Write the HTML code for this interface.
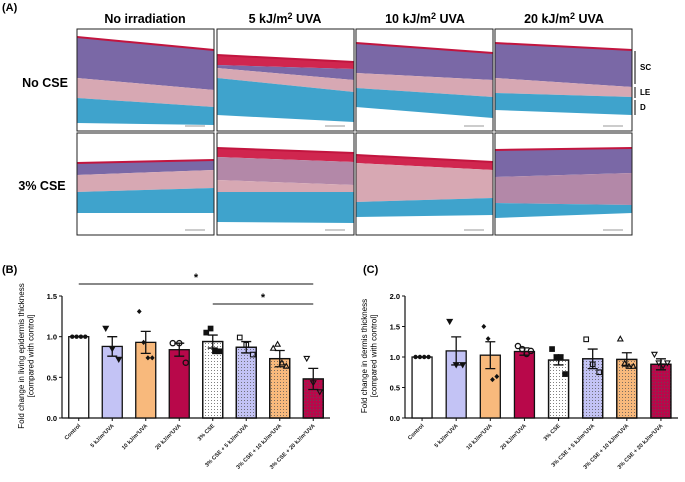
<!DOCTYPE html>
<html><head><meta charset="utf-8">
<style>
body{margin:0;width:685px;height:482px;background:#fff;overflow:hidden;font-family:"Liberation Sans",Arial,sans-serif}
svg{position:absolute;left:0;top:0}
</style></head>
<body>
<svg id="fig" width="685" height="482" viewBox="0 0 685 482">
<defs>
<pattern id="dots" width="3" height="3" patternUnits="userSpaceOnUse"><rect width="3" height="3" fill="none"/><circle cx="1.5" cy="1.5" r="0.5" fill="#555"/></pattern>
</defs>
<text x="2" y="11" font-size="11" font-weight="bold">(A)</text>
<g font-size="12.5" font-weight="bold" text-anchor="middle">
<text x="145" y="23">No irradiation</text>
<text x="285" y="23">5 kJ/m<tspan font-size="9" dy="-4">2</tspan><tspan dy="4"> UVA</tspan></text>
<text x="425" y="23">10 kJ/m<tspan font-size="9" dy="-4">2</tspan><tspan dy="4"> UVA</tspan></text>
<text x="564" y="23">20 kJ/m<tspan font-size="9" dy="-4">2</tspan><tspan dy="4"> UVA</tspan></text>
<text x="45" y="87">No CSE</text>
<text x="42" y="190">3% CSE</text>
</g>
<g id="panels"></g>
<g font-size="8" font-weight="bold">
<line x1="635" y1="51" x2="635" y2="84" stroke="#000"/><text x="640" y="70">SC</text>
<line x1="635" y1="87" x2="635" y2="98" stroke="#000"/><text x="640" y="95">LE</text>
<line x1="635" y1="100" x2="635" y2="115" stroke="#000"/><text x="640" y="110">D</text>
</g>
<text x="2" y="273" font-size="11" font-weight="bold">(B)</text>
<text x="363" y="273" font-size="11" font-weight="bold">(C)</text>
<g id="chartB"></g>
<g id="chartC"></g>
</svg>
<script>
const NS="http://www.w3.org/2000/svg";
function mk(p,t,a){const e=document.createElementNS(NS,t);for(const k in a)e.setAttribute(k,a[k]);p.appendChild(e);return e;}
// ---- histology panels (illustrative) ----
const panelCols=[77,217,356,495], panelRows=[29,133], pw=137, ph=102;
const PU="#7a68a6", PK="#d7a8b3", CY="#3fa3cc", RD="#d0264f", PM="#b388a8";
const panelLayers=[
 [[8,21,PU],[49,61,PK],[69,78,CY],[94,96,null]],
 [[26,33,RD],[36,40,PU],[39,51,PK],[49,63,CY],[86,93,null]],
 [[14,24,PU],[44,51,PK],[59,68,CY],[78,89,null]],
 [[14,21,PU],[49,58,PK],[64,68,CY],[81,86,null]],
 [[30,27,PU],[42,37,PK],[59,55,CY],[80,80,null]],
 [[15,20,RD],[24,29,PM],[47,52,PK],[59,59,CY],[89,90,null]],
 [[22,29,RD],[30,37,PK],[69,65,CY],[84,82,null]],
 [[17,15,PU],[44,40,PM],[70,72,CY],[85,80,null]]];
panelLayers.forEach((L,i)=>{
 const x0=panelCols[i%4], y0=panelRows[Math.floor(i/4)];
 const g=mk(document.getElementById('panels'),'g',{});
 
 
 mk(g,'rect',{x:x0,y:y0,width:pw,height:ph,fill:'#fff'});
 for(let j=0;j<L.length-1;j++){
  const [l,r,col]=L[j], [nl,nr]=L[j+1];
  if(!col) continue;
  mk(g,'polygon',{points:`${x0},${y0+l} ${x0+pw},${y0+r} ${x0+pw},${y0+nr} ${x0},${y0+nl}`,fill:col});
 }
 mk(g,'line',{x1:x0,y1:y0+L[0][0],x2:x0+pw,y2:y0+L[0][1],stroke:'#c2153f','stroke-width':2});
 mk(g,'line',{x1:x0+108,y1:y0+97,x2:x0+128,y2:y0+97,stroke:'#333','stroke-width':0.6});
 mk(g,'rect',{x:x0,y:y0,width:pw,height:ph,fill:'none',stroke:'#222','stroke-width':1});
});
// ---- chart data ----
const categories=["Control","5 kJ/m²UVA","10 kJ/m²UVA","20 kJ/m²UVA","3% CSE","3% CSE + 5 kJ/m²UVA","3% CSE + 10 kJ/m²UVA","3% CSE + 20 kJ/m²UVA"];
const meansB=[1.0,0.88,0.93,0.84,0.94,0.87,0.73,0.48];
const errB=[0.0,0.12,0.135,0.08,0.08,0.07,0.10,0.13];
const ptsB=[[1,1,1,1],[1.1,0.85,0.72],[1.31,0.93,0.74,0.74],[0.92,0.92,0.68],[1.05,1.1,0.82,0.82],[0.99,0.9,0.78],[0.86,0.91,0.68,0.64],[0.73,0.43,0.32]];
const ticksB=[0,0.5,1.0,1.5];
const meansC=[1.0,1.1,1.03,1.09,0.95,0.97,0.96,0.88];
const errC=[0.0,0.23,0.22,0.06,0.08,0.16,0.11,0.09];
const ptsC=[[1,1,1,1],[1.58,0.87,0.87],[1.5,1.3,0.63,0.68],[1.18,1.13,1.05,1.1],[1.13,1.0,1.0,0.72],[1.29,0.88,0.75],[1.3,0.9,0.85,0.85],[1.04,0.9,0.85,0.9]];
const ticksC=[0,0.5,1.0,1.5,2.0];
const fills=["#ffffff","#c3c3f5","#f8b97c","#b8084a","#ffffff","#c3c3f5","#f8b97c","#b8084a"];
const shapes=["dot","tri-down","diamond","ocircle","square","osquare","otri","otri-down"];
function marker(g,s,x,y){
 const f=s[0]==='o'?'none':'#111';
 let e;
 if(s==='dot')e=mk(g,'circle',{cx:x,cy:y,r:2.2,fill:'#111'});
 else if(s==='ocircle')e=mk(g,'circle',{cx:x,cy:y,r:2.6,fill:'none',stroke:'#111','stroke-width':1.3});
 else if(s==='square'||s==='osquare')e=mk(g,'rect',{x:x-2.3,y:y-2.3,width:4.6,height:4.6,fill:f,stroke:'#111','stroke-width':1.1});
 else if(s==='diamond')e=mk(g,'polygon',{points:`${x},${y-2.6} ${x+2.4},${y} ${x},${y+2.6} ${x-2.4},${y}`,fill:'#111'});
 else if(s.includes('tri-down'))e=mk(g,'polygon',{points:`${x-2.6},${y-2.2} ${x+2.6},${y-2.2} ${x},${y+2.4}`,fill:f,stroke:'#111','stroke-width':1.1});
 else e=mk(g,'polygon',{points:`${x-2.6},${y+2.2} ${x+2.6},${y+2.2} ${x},${y-2.4}`,fill:f,stroke:'#111','stroke-width':1.1});
 
 
}
function chart(id,cfg){
 const g=document.getElementById(id);
 
 
 const y=v=>cfg.y0-(v-0)*(cfg.y0-cfg.yTop)/cfg.ymax;
 const n=categories.length, bw=(cfg.x1-cfg.x0)/n;
 const x=i=>cfg.x0+bw*(i+0.5);
 mk(g,'line',{x1:cfg.x0,y1:cfg.yTop,x2:cfg.x0,y2:cfg.y0,stroke:'#111','stroke-width':1.2});
 mk(g,'line',{x1:cfg.x0,y1:cfg.y0,x2:cfg.x1,y2:cfg.y0,stroke:'#111','stroke-width':1.2});
 cfg.ticks.forEach(t=>{
  mk(g,'line',{x1:cfg.x0-3,y1:y(t),x2:cfg.x0,y2:y(t),stroke:'#111'});
  const tx=mk(g,'text',{x:cfg.x0-5,y:y(t)+3,'font-size':7.5,'font-weight':'bold','text-anchor':'end'});
  tx.textContent=t.toFixed(1);
  
  
 });
 const yt=mk(g,'text',{transform:`translate(${cfg.x0-38},${cfg.y0-62}) rotate(-90)`,'font-size':8,'text-anchor':'middle'});
 
 
 mk(yt,'tspan',{x:0,dy:0}).textContent=cfg.title;
 mk(yt,'tspan',{x:0,dy:9.5}).textContent='[compared with control]';
 for(let i=0;i<n;i++){
  const bx=x(i)-10;
  const r=mk(g,'rect',{x:bx,y:y(cfg.means[i]),width:20,height:cfg.y0-y(cfg.means[i]),fill:fills[i],stroke:'#111','stroke-width':1.3});
  
  
  if(i>=4) mk(g,'rect',{x:bx,y:y(cfg.means[i]),width:20,height:cfg.y0-y(cfg.means[i]),fill:'url(#dots)',stroke:'#111','stroke-width':1.3});
  const eb=mk(g,'path',{d:`M${x(i)},${y(cfg.means[i]+cfg.err[i])}V${y(cfg.means[i]-cfg.err[i])}M${x(i)-5},${y(cfg.means[i]+cfg.err[i])}H${x(i)+5}M${x(i)-5},${y(cfg.means[i]-cfg.err[i])}H${x(i)+5}`,stroke:'#111','stroke-width':1.3,fill:'none'});
  
  
  const p=cfg.pts[i];
  p.forEach((v,k)=>marker(g,shapes[i],x(i)+(p.length===1?0:(k/(p.length-1)-0.5)*13),y(v)));
  mk(g,'line',{x1:x(i),y1:cfg.y0,x2:x(i),y2:cfg.y0+3,stroke:'#111'});
  const lb=mk(g,'text',{transform:`translate(${x(i)+2},${cfg.y0+8}) rotate(-45)`,'font-size':5.6,'font-weight':'bold','text-anchor':'end',fill:'#222'});
  lb.textContent=categories[i];
  
  
 }
 (cfg.sig||[]).forEach(s=>{
  const l=mk(g,'line',{x1:x(s[0]),y1:s[2],x2:x(s[1]),y2:s[2],stroke:'#111','stroke-width':1});
  
  
  const t=mk(g,'text',{x:(x(s[0])+x(s[1]))/2,y:s[2]-3,'font-size':11,'font-weight':'bold','text-anchor':'middle'});
  t.textContent='*';
  
  
 });
}
chart('chartB',{name:'chart-b-epidermis',x0:62,x1:330,y0:418,yTop:296,ymax:1.5,ticks:ticksB,means:meansB,err:errB,pts:ptsB,title:'Fold change in living epidermis thickness',sig:[[0,7,284],[4,7,304]]});
chart('chartC',{name:'chart-c-dermis',x0:405,x1:678,y0:418,yTop:296,ymax:2.0,ticks:ticksC,means:meansC,err:errC,pts:ptsC,title:'Fold change in dermis thickness'});
</script>
</body></html>
